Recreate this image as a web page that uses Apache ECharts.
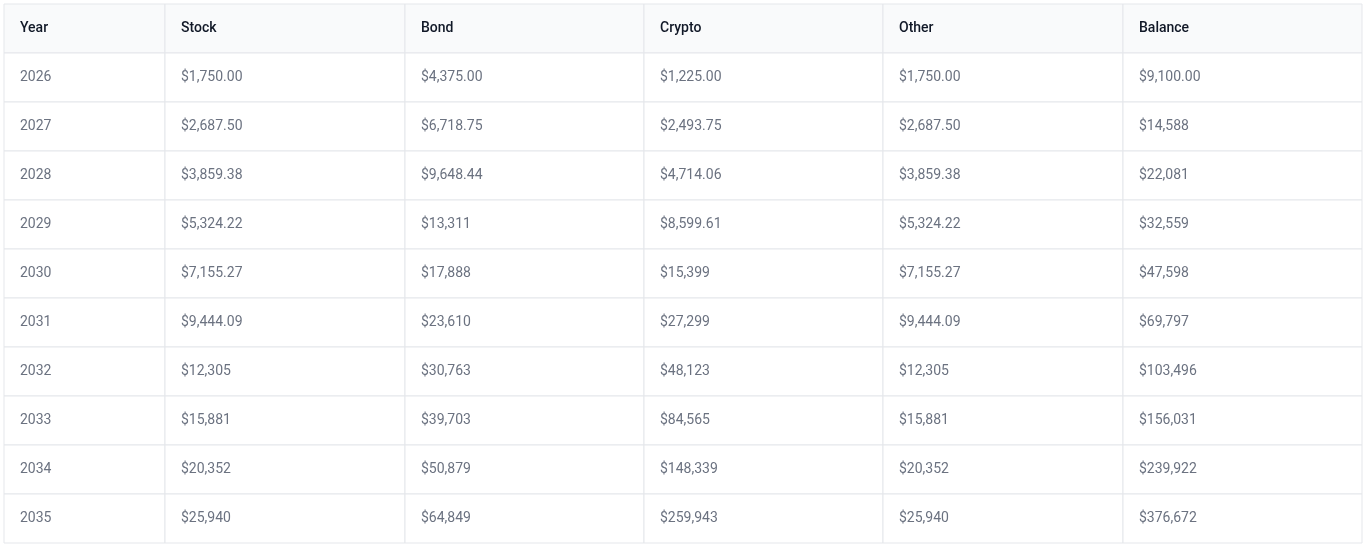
<!DOCTYPE html>
<html><head><meta charset="utf-8">
<script src="https://cdn.jsdelivr.net/npm/echarts@6/dist/echarts.min.js"></script>
<style>html,body{margin:0;padding:0;background:#fff}#c{width:1366px;height:547px}</style>
</head><body><div id="c"></div>
<script>
const headers = ['Year','Stock','Bond','Crypto','Other','Balance'];
const years = [2026,2027,2028,2029,2030,2031,2032,2033,2034,2035];
const stock = [1750,2687.5,3859.38,5324.22,7155.27,9444.09,12305,15881,20352,25940];
const bond = [4375,6718.75,9648.44,13311,17888,23610,30763,39703,50879,64849];
const crypto = [1225,2493.75,4714.06,8599.61,15399,27299,48123,84565,148339,259943];
const other = [1750,2687.5,3859.38,5324.22,7155.27,9444.09,12305,15881,20352,25940];
const balance = [9100,14588,22081,32559,47598,69797,103496,156031,239922,376672];

function fmt(v){
  if (v < 10000) return '$' + v.toLocaleString('en-US',{minimumFractionDigits:2,maximumFractionDigits:2});
  return '$' + Math.round(v).toLocaleString('en-US');
}
const cols = [years, stock, bond, crypto, other, balance];
const edges = [0,161,401,640,879,1119,1358];
const rowsCat = ['h'].concat(years.map(String));
const data = [];
headers.forEach((h,c)=>data.push([c,0,h]));
years.forEach((y,r)=>cols.forEach((arr,c)=>data.push([c,r+1, c===0?String(arr[r]):fmt(arr[r])])));

const chart = echarts.init(document.getElementById('c'));
chart.setOption({
  animation:false,
  grid:{left:4,right:4,top:4,bottom:4},
  xAxis:{type:'value',min:0,max:1358,show:false},
  yAxis:{type:'category',data:rowsCat,inverse:true,show:false},
  series:[{
    type:'custom',
    data:data,
    renderItem:function(params,api){
      const c=api.value(0), r=api.value(1);
      const p0=api.coord([edges[c],r]), p1=api.coord([edges[c+1],r]);
      const h=api.size([0,1])[1];
      const y0=p0[1]-h/2;
      const header=r===0;
      return {type:'group',children:[
        {type:'rect',shape:{x:p0[0],y:y0,width:p1[0]-p0[0],height:h},
         style:{fill:header?'#f9fafb':'#ffffff',stroke:'#e5e7eb',lineWidth:1}},
        {type:'text',x:p0[0]+16,y:p0[1],
         style:{text:api.value(2),fill:header?'#111827':'#6b7280',
           font:(header?'500 ':'400 ')+'14px Roboto',verticalAlign:'middle',align:'left'}}
      ]};
    }
  }]
});
</script></body></html>
